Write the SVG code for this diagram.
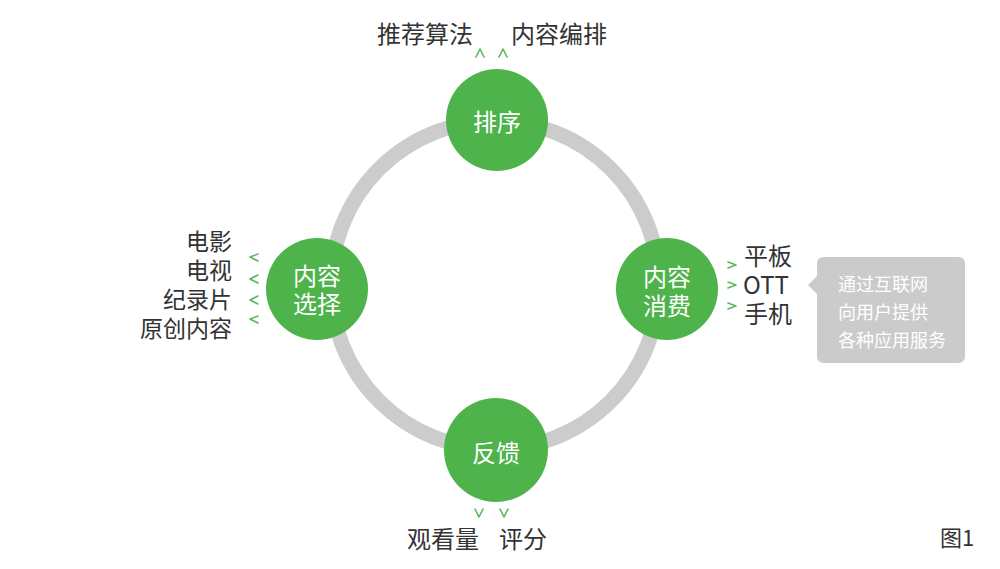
<svg xmlns="http://www.w3.org/2000/svg" width="1000" height="569" viewBox="0 0 1000 569">
<style>
.node{fill:#4db34a;}
.nt{fill:#ffffff;font-family:"Noto Sans CJK SC","Noto Sans",sans-serif;font-size:24px;text-anchor:middle;dominant-baseline:central;}
.lbl{fill:#333333;font-family:"Noto Sans CJK SC","Noto Sans",sans-serif;font-size:24px;dominant-baseline:central;}
.sl{font-size:23px;}
.ct{fill:#ffffff;font-family:"Noto Sans CJK SC","Noto Sans",sans-serif;font-size:18px;dominant-baseline:central;}
.chev{fill:none;stroke:#5cb85c;stroke-width:1.6;stroke-linecap:round;stroke-linejoin:round;}
</style>
<rect width="1000" height="569" fill="#ffffff"/>
<g id="connectors">
<circle cx="495" cy="285" r="164" fill="none" stroke="#cccccc" stroke-width="15"/>
</g>
<g id="node-sort">
<circle class="node" cx="497" cy="120" r="51"/>
<text class="nt" x="497" y="120">排序</text>
</g>
<g id="node-select">
<circle class="node" cx="317" cy="289" r="51"/>
<text class="nt" x="317" y="274">内容</text>
<text class="nt" x="317" y="302">选择</text>
</g>
<g id="node-consume">
<circle class="node" cx="667" cy="289" r="51"/>
<text class="nt" x="667" y="275">内容</text>
<text class="nt" x="667" y="304">消费</text>
</g>
<g id="node-feedback">
<circle class="node" cx="496" cy="450" r="52"/>
<text class="nt" x="496" y="451">反馈</text>
</g>
<g id="labels-top">
<text class="lbl" x="425" y="32" text-anchor="middle">推荐算法</text>
<text class="lbl" x="559" y="32" text-anchor="middle">内容编排</text>
<polyline class="chev" points="476,57 480,49 484,57"/>
<polyline class="chev" points="499,57 503,49 507,57"/>
</g>
<g id="labels-left">
<text class="lbl sl" x="232" y="240" text-anchor="end">电影</text>
<text class="lbl sl" x="232" y="269" text-anchor="end">电视</text>
<text class="lbl sl" x="232" y="298" text-anchor="end">纪录片</text>
<text class="lbl sl" x="232" y="327" text-anchor="end">原创内容</text>
<polyline class="chev" points="258,254 250,257 258,261"/>
<polyline class="chev" points="258,275 250,279 258,283"/>
<polyline class="chev" points="258,296 250,300 258,304"/>
<polyline class="chev" points="258,316 250,319 258,323"/>
</g>
<g id="labels-right">
<text class="lbl" x="744" y="254">平板</text>
<text class="lbl" x="743" y="283">OTT</text>
<text class="lbl" x="744" y="312">手机</text>
<polyline class="chev" points="728,262 736,265 728,268"/>
<polyline class="chev" points="728,282 736,285 728,288"/>
<polyline class="chev" points="728,303 736,306 728,309"/>
</g>
<g id="callout">
<path d="M824,257 H958 Q965,257 965,264 V356 Q965,363 958,363 H824 Q817,363 817,356 V294 L808,285 L817,276 V264 Q817,257 824,257 Z" fill="#cbcbcb"/>
<text class="ct" x="838" y="283">通过互联网</text>
<text class="ct" x="838" y="311">向用户提供</text>
<text class="ct" x="838" y="339">各种应用服务</text>
</g>
<g id="labels-bottom">
<text class="lbl" x="443" y="537" text-anchor="middle">观看量</text>
<text class="lbl" x="523" y="537" text-anchor="middle">评分</text>
<polyline class="chev" points="475,509 479,517 483,509"/>
<polyline class="chev" points="500,509 504,517 508,509"/>
</g>
<text class="lbl" x="940" y="536" style="font-size:22px">图1</text>
</svg>
